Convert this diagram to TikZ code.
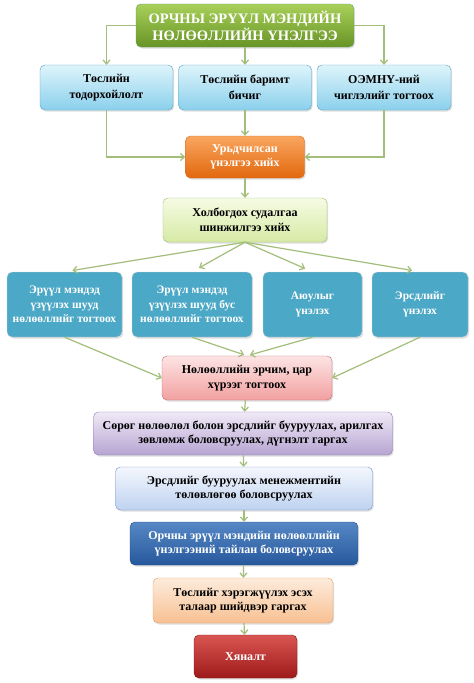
\documentclass[tikz,border=0pt]{standalone}
\usepackage{fontspec}
\setmainfont{Liberation Serif}
\usetikzlibrary{arrows.meta,shadows}
\definecolor{connclr}{HTML}{A3BE7A}
\tikzset{
  box/.style={rectangle, rounded corners=5pt, align=center, inner sep=2pt,
    font=\bfseries\fontsize{12}{14.5}\selectfont,
    drop shadow={opacity=0.25, shadow xshift=1.2pt, shadow yshift=-1.5pt}},
  titlebox/.style={box, draw=green!40!black!60, top color={rgb,255:red,168;green,208;blue,90},
    bottom color={rgb,255:red,104;green,148;blue,38}, text=white,
    font=\bfseries\fontsize{14.5}{17}\selectfont},
  docbox/.style={box, draw={rgb,255:red,90;green,160;blue,190}, top color={rgb,255:red,222;green,244;blue,251},
    bottom color={rgb,255:red,138;green,208;blue,236}, font=\bfseries\fontsize{12}{16.5}\selectfont},
  prebox/.style={box, draw={rgb,255:red,214;green,110;blue,30}, top color={rgb,255:red,249;green,166;blue,96},
    bottom color={rgb,255:red,226;green,104;blue,14}, text=white},
  studybox/.style={box, draw={rgb,255:red,160;green,190;blue,110}, top color={rgb,255:red,246;green,251;blue,228},
    bottom color={rgb,255:red,214;green,234;blue,164}},
  effbox/.style={box, draw=white!85!black, fill={rgb,255:red,75;green,168;blue,198}, text=white,
    font=\bfseries\fontsize{11.5}{14.5}\selectfont},
  pinkbox/.style={box, draw={rgb,255:red,190;green,110;blue,110}, top color={rgb,255:red,253;green,228;blue,228},
    bottom color={rgb,255:red,242;green,160;blue,160}},
  mitbox/.style={box, draw={rgb,255:red,140;green,120;blue,175}, top color={rgb,255:red,240;green,234;blue,247},
    bottom color={rgb,255:red,182;green,164;blue,210}},
  planbox/.style={box, draw={rgb,255:red,120;green,150;blue,195}, top color={rgb,255:red,244;green,247;blue,253},
    bottom color={rgb,255:red,190;green,210;blue,240}},
  reportbox/.style={box, draw={rgb,255:red,40;green,80;blue,140}, top color={rgb,255:red,86;green,136;blue,198},
    bottom color={rgb,255:red,38;green,88;blue,156}, text=white},
  decbox/.style={box, draw={rgb,255:red,225;green,160;blue,110}, top color={rgb,255:red,253;green,236;blue,220},
    bottom color={rgb,255:red,248;green,192;blue,146}},
  ctrlbox/.style={box, draw={rgb,255:red,130;green,20;blue,20}, top color={rgb,255:red,218;green,86;blue,82},
    bottom color={rgb,255:red,158;green,26;blue,26}, text=white},
  conn/.style={draw=connclr, line width=1.2pt, -{Straight Barb[length=4pt,width=7pt]}}
}
\begin{document}
\begin{tikzpicture}[x=1pt, y=-1pt]
  \useasboundingbox[fill=white] (0,0) rectangle (474,683);

  % --- Title and inputs ---
  \node[titlebox, minimum width=218, minimum height=43] (title) at (245,25.5)
    {ОРЧНЫ ЭРҮҮЛ МЭНДИЙН\\НӨЛӨӨЛЛИЙН ҮНЭЛГЭЭ};
  \node[docbox, minimum width=133, minimum height=45] (define) at (106.5,87.5)
    {Төслийн\\тодорхойлолт};
  \node[docbox, minimum width=133, minimum height=45] (papers) at (245,87.5)
    {Төслийн баримт\\бичиг};
  \node[docbox, minimum width=134, minimum height=45] (scope) at (384,87.5)
    {ОЭМНҮ-ний\\чиглэлийг тогтоох};

  % --- Screening and studies ---
  \node[prebox, minimum width=119, minimum height=42] (screen) at (245,157)
    {Урьдчилсан\\үнэлгээ хийх};
  \node[studybox, minimum width=164, minimum height=44] (study) at (245,220)
    {Холбогдох судалгаа\\шинжилгээ хийх};

  % --- Four assessments ---
  \node[effbox, minimum width=115, minimum height=65] (direct) at (64.5,304.5)
    {Эрүүл мэндэд\\үзүүлэх шууд\\нөлөөллийг тогтоох};
  \node[effbox, minimum width=120, minimum height=65] (indirect) at (192,304.5)
    {Эрүүл мэндэд\\үзүүлэх шууд бус\\нөлөөллийг тогтоох};
  \node[effbox, minimum width=99, minimum height=65] (hazard) at (312.5,304.5)
    {Аюулыг\\үнэлэх};
  \node[effbox, minimum width=96, minimum height=65] (risk) at (420,304.5)
    {Эрсдлийг\\үнэлэх};

  % --- Main chain ---
  \node[pinkbox, minimum width=170, minimum height=44] (extent) at (247,378)
    {Нөлөөллийн эрчим, цар\\хүрээг тогтоох};
  \node[mitbox, minimum width=299, minimum height=43] (mitig) at (243,433.5)
    {Сөрөг нөлөөлөл болон эрсдлийг бууруулах, арилгах\\зөвлөмж боловсруулах, дүгнэлт гаргах};
  \node[planbox, minimum width=257, minimum height=43] (plan) at (244,488.5)
    {Эрсдлийг бууруулах менежментийн\\төлөвлөгөө боловсруулах};
  \node[reportbox, minimum width=228, minimum height=43] (report) at (244,543.5)
    {Орчны эрүүл мэндийн нөлөөллийн\\үнэлгээний тайлан  боловсруулах};
  \node[decbox, minimum width=180, minimum height=45] (decide) at (243,600.5)
    {Төслийг хэрэгжүүлэх эсэх\\талаар шийдвэр гаргах};
  \node[ctrlbox, minimum width=103, minimum height=43] (control) at (245.5,656.5)
    {Хяналт};

  % --- Arrows ---
  \draw[conn] (title.west) -| (define.north);
  \draw[conn] (title.east) -| (scope.north);
  \draw[conn] (title) -- (papers);
  \draw[conn] (define.south) |- (screen.west);
  \draw[conn] (scope.south) |- (screen.east);
  \draw[conn] (papers) -- (screen);
  \draw[conn] (screen) -- (study);
  \foreach \n in {direct,indirect,hazard,risk}
    \draw[conn, shorten >=8pt] (study.south) -- (\n.north);
  \draw[conn] (direct.south) -- (extent.west);
  \draw[conn, shorten >=3pt] (indirect.south) -- (extent.north);
  \draw[conn, shorten >=3pt] (hazard.south) -- (extent.north);
  \draw[conn] (risk.south) -- (extent.east);
  \draw[conn] (extent) -- (mitig);
  \draw[conn] (mitig) -- (plan);
  \draw[conn] (plan) -- (report);
  \draw[conn] (report) -- (decide);
  \draw[conn] (decide) -- (control);
\end{tikzpicture}
\end{document}
